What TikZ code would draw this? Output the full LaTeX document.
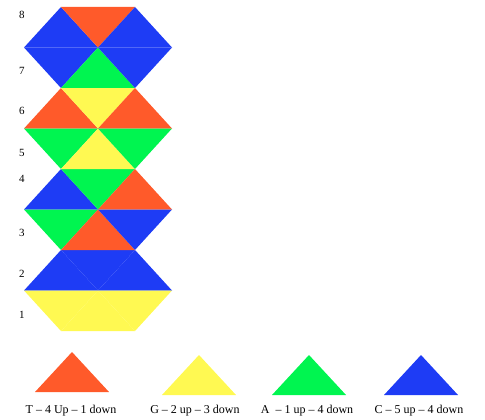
\documentclass[tikz,border=0pt]{standalone}
\usepackage{fontspec}
\setmainfont{Liberation Serif}
\definecolor{torange}{RGB}{255, 90, 42}
\definecolor{gyellow}{RGB}{255, 249, 82}
\definecolor{agreen}{RGB}{0, 245, 80}
\definecolor{cblue}{RGB}{30, 60, 245}
\usepackage{tikz}
\usetikzlibrary{positioning}

\begin{document}
\begin{tikzpicture}[x=1pt,y=-1pt]
    \useasboundingbox (0,0) rectangle (485,420);
    \tikzset{rowlabel/.style={font=\fontsize{11}{13}\selectfont},
             keylabel/.style={font=\fontsize{12}{14}\selectfont, anchor=base}}

    % Upper halves of the hexagons (rows 2, 4, 6, 8)
    \foreach \r/\cl/\cm/\cr in {2/cblue/cblue/cblue, 4/cblue/agreen/torange,
                                6/torange/gyellow/torange, 8/cblue/torange/cblue}
    {
        \pgfmathsetmacro{\t}{331-40.5*\r}
        \fill[\cl] (61,\t) -- (24,\t+40.5) -- (98,\t+40.5) -- cycle;
        \fill[\cm] (61,\t) -- (135,\t) -- (98,\t+40.5) -- cycle;
        \fill[\cr] (135,\t) -- (98,\t+40.5) -- (172,\t+40.5) -- cycle;
    }

    % Lower halves of the hexagons (rows 1, 3, 5, 7)
    \foreach \r/\cl/\cm/\cr in {1/gyellow/gyellow/gyellow, 3/agreen/torange/cblue,
                                5/agreen/gyellow/agreen, 7/cblue/agreen/cblue}
    {
        \pgfmathsetmacro{\t}{331-40.5*\r}
        \fill[\cl] (24,\t) -- (98,\t) -- (61,\t+40.5) -- cycle;
        \fill[\cm] (98,\t) -- (61,\t+40.5) -- (135,\t+40.5) -- cycle;
        \fill[\cr] (98,\t) -- (172,\t) -- (135,\t+40.5) -- cycle;
    }

    % Row numbers
    \foreach \n/\y in {1/315, 2/274, 3/233, 4/179, 5/153, 6/111, 7/71, 8/15}
        \node[rowlabel] (row\n) at (22,\y) {\n};

    % Legend
    \fill[torange] (35,392) -- (72,352) -- (109,392) -- cycle;
    \node[keylabel] (keyT) at (71,413) {T – 4 Up – 1 down};
    \fill[gyellow] (162,395) -- (199,355) -- (236,395) -- cycle;
    \node[keylabel] (keyG) at (195,413) {G – 2 up – 3 down};
    \fill[agreen] (272,395) -- (309,355) -- (346,395) -- cycle;
    \node[keylabel] (keyA) at (307,413) {A\ \ – 1 up – 4 down};
    \fill[cblue] (384,395) -- (421,355) -- (458,395) -- cycle;
    \node[keylabel] (keyC) at (419,413) {C – 5 up – 4 down};
\end{tikzpicture}
\end{document}
